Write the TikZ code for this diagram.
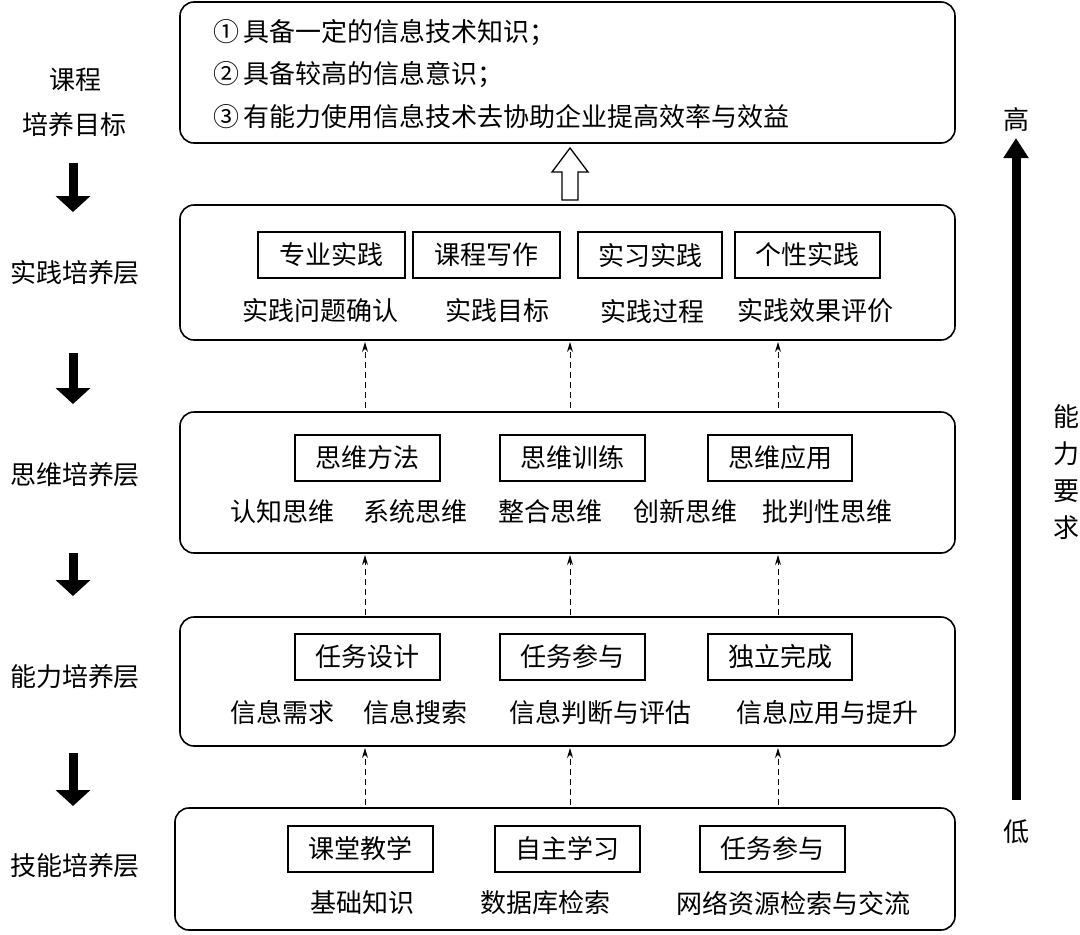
\documentclass[tikz,border=0pt]{standalone}
\usepackage{fontspec}
\setmainfont{Noto Sans CJK SC}
\usetikzlibrary{arrows.meta}
\begin{document}
\begin{tikzpicture}[x=1pt,y=-1pt,font=\fontsize{26}{30}\selectfont,
  big/.style={draw,line width=1.6pt,rounded corners=14pt},
  sm/.style={draw,line width=1.3pt,minimum height=46pt,inner sep=0pt},
  lbl/.style={inner sep=0pt},
  dsharr/.style={dash pattern=on 6pt off 4pt,line width=1pt,-{Stealth[length=10pt,width=6pt]}},
  blk/.style={line width=9pt,-{Triangle[length=16pt,width=34pt]}}]
\useasboundingbox (0,0) rectangle (1080,935);
% top box
\draw[big] (180,2) rectangle (955,143);
\node[lbl,anchor=west] (g1) at (213,33) {①\,具备一定的信息技术知识；};
\node[lbl,anchor=west] (g2) at (213,75) {②\,具备较高的信息意识；};
\node[lbl,anchor=west] (g3) at (213,117) {③\,有能力使用信息技术去协助企业提高效率与效益};
% hollow arrow
\draw[line width=1.3pt,fill=white] (562,200)--(562,172)--(552,172)--(570,148)--(588,172)--(578,172)--(578,200)--cycle;
% practice layer
\draw[big] (180,205) rectangle (955,340);
\node[sm,minimum width=147pt] (p1) at (331.5,255) {专业实践};
\node[sm,minimum width=147pt] (p2) at (486.5,255) {课程写作};
\node[sm,minimum width=144pt] (p3) at (650,255) {实习实践};
\node[sm,minimum width=145pt] (p4) at (807.5,255) {个性实践};
\node[lbl] at (320,311) {实践问题确认};
\node[lbl] at (497,311) {实践目标};
\node[lbl] at (652,311) {实践过程};
\node[lbl] at (815,311) {实践效果评价};
% thinking layer
\draw[big] (180,412) rectangle (955,553);
\node[sm,minimum width=145pt] (t1) at (367.5,458) {思维方法};
\node[sm,minimum width=145pt] (t2) at (572.5,458) {思维训练};
\node[sm,minimum width=144pt] (t3) at (780,458) {思维应用};
\node[lbl] at (282,512) {认知思维};
\node[lbl] at (415,512) {系统思维};
\node[lbl] at (550,512) {整合思维};
\node[lbl] at (685,512) {创新思维};
\node[lbl] at (827,512) {批判性思维};
% ability layer
\draw[big] (180,617) rectangle (955,746);
\node[sm,minimum width=145pt] (a1) at (367.5,657) {任务设计};
\node[sm,minimum width=145pt] (a2) at (572.5,657) {任务参与};
\node[sm,minimum width=144pt] (a3) at (780,657) {独立完成};
\node[lbl] at (282,713) {信息需求};
\node[lbl] at (415,713) {信息搜索};
\node[lbl] at (600,713) {信息判断与评估};
\node[lbl] at (827,713) {信息应用与提升};
% skill layer
\draw[big] (175,808) rectangle (955,930);
\node[sm,minimum width=145pt] (s1) at (360.5,849) {课堂教学};
\node[sm,minimum width=145pt] (s2) at (567.5,849) {自主学习};
\node[sm,minimum width=145pt] (s3) at (772.5,849) {任务参与};
\node[lbl] at (362,903) {基础知识};
\node[lbl] at (545,903) {数据库检索};
\node[lbl] at (793,903) {网络资源检索与交流};
% dashed arrows
\foreach \x in {365,570,778}{
  \draw[dsharr] (\x,408)--(\x,342);
  \draw[dsharr] (\x,615)--(\x,555);
  \draw[dsharr] (\x,805)--(\x,748);}
% left labels
\node[lbl] at (75,80) {课程};
\node[lbl] at (75,125) {培养目标};
\node[lbl] at (75,273) {实践培养层};
\node[lbl] at (75,475) {思维培养层};
\node[lbl] at (75,677) {能力培养层};
\node[lbl] at (75,866) {技能培养层};
\foreach \a/\b in {163/212,353/404,553/596,753/806}
  \draw[blk] (73,\a)--(73,\b);
% right axis
\draw[line width=9pt,-{Triangle[length=20pt,width=24pt]}] (1016,800)--(1016,138);
\node[lbl] at (1016,120) {高};
\node[lbl] at (1016,832) {低};
\node[lbl,align=center,font=\fontsize{26}{37}\selectfont] at (1066,472) {能\\力\\要\\求};
\end{tikzpicture}
\end{document}
